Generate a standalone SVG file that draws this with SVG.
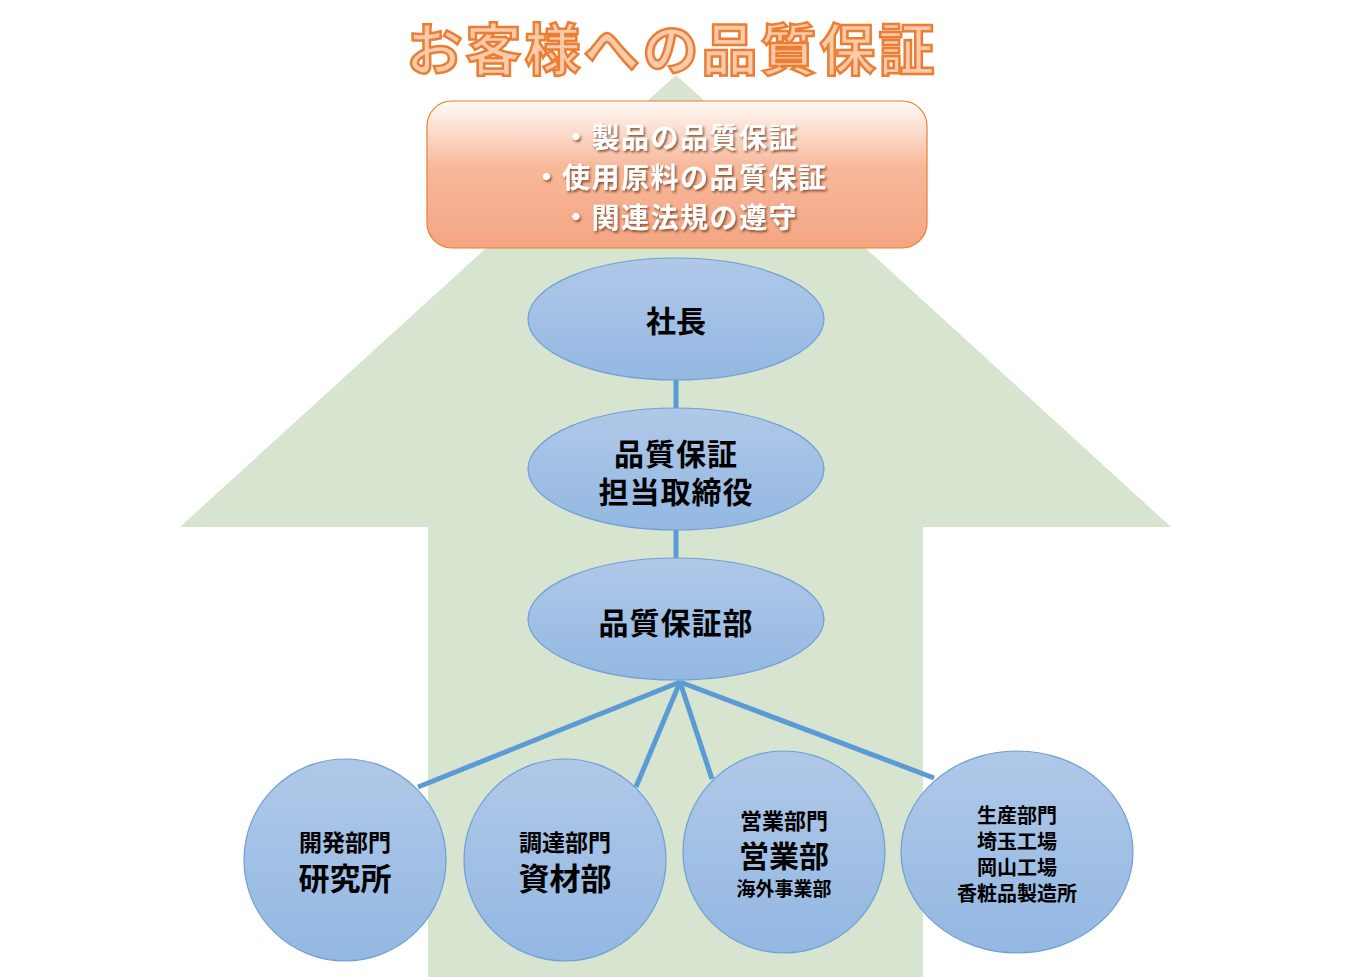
<svg xmlns="http://www.w3.org/2000/svg" width="1350" height="977" viewBox="0 0 1350 977">
<defs>
<linearGradient id="og" x1="0" y1="0" x2="0" y2="1"><stop offset="0" stop-color="#fffaf7"/><stop offset="0.45" stop-color="#f7b89a"/><stop offset="1" stop-color="#f4a582"/></linearGradient>
<linearGradient id="bg" x1="0" y1="0" x2="0" y2="1"><stop offset="0" stop-color="#b0c8e8"/><stop offset="1" stop-color="#93b8e2"/></linearGradient>
<filter id="sh" x="-10%" y="-10%" width="120%" height="130%"><feDropShadow dx="1.5" dy="2" stdDeviation="1.2" flood-color="#7a3a1a" flood-opacity="0.8"/></filter>
<style>
.n{fill:url(#bg);stroke:#6f9fd6;stroke-width:1.2}
.t{font-family:"Noto Sans CJK JP",sans-serif;font-weight:bold;fill:#000;text-anchor:middle}
.bx{font-family:"Noto Sans CJK JP",sans-serif;font-weight:bold;fill:#fff;font-size:28px;letter-spacing:1.5px;text-anchor:middle;filter:url(#sh)}
.c{stroke:#5b9bd5;stroke-width:5;fill:none}
</style>
</defs>
<rect width="1350" height="977" fill="#fff"/>
<polygon points="676,75 1171,527 923,527 923,977 428,977 428,527 180,527" fill="#d6e4d0"/>
<text x="672" y="70" font-family="Noto Sans CJK JP,sans-serif" font-weight="bold" font-size="56" letter-spacing="3" fill="#f8cbad" stroke="#ed7d31" stroke-width="2.5" text-anchor="middle">お客様への品質保証</text>
<g id="box"><rect x="427" y="101" width="500" height="147" rx="25" fill="url(#og)" stroke="#ed7d31" stroke-width="1.2"/>
<text class="bx" x="680" y="148">・製品の品質保証</text>
<text class="bx" x="680" y="188">・使用原料の品質保証</text>
<text class="bx" x="680" y="228">・関連法規の遵守</text></g>
<g id="connectors">
<line class="c" x1="676" y1="380" x2="676" y2="408"/>
<line class="c" x1="676" y1="530" x2="676" y2="558"/>
<line class="c" x1="680" y1="682" x2="418" y2="787"/>
<line class="c" x1="680" y1="682" x2="636" y2="787"/>
<line class="c" x1="680" y1="682" x2="712" y2="779"/>
<line class="c" x1="680" y1="682" x2="934" y2="778"/>
</g>
<g id="n1"><ellipse class="n" cx="676" cy="319" rx="148" ry="61"/><text class="t" x="676" y="332" font-size="30">社長</text></g>
<g id="n2"><ellipse class="n" cx="676" cy="469" rx="148" ry="61"/><text class="t" x="676" y="465" font-size="30" letter-spacing="1">品質保証</text><text class="t" x="676" y="503" font-size="30" letter-spacing="1">担当取締役</text></g>
<g id="n3"><ellipse class="n" cx="676" cy="619" rx="148" ry="61"/><text class="t" x="676" y="634" font-size="30" letter-spacing="1">品質保証部</text></g>
<g id="n4"><ellipse class="n" cx="345" cy="860" rx="101" ry="101"/><text class="t" x="345" y="851" font-size="23">開発部門</text><text class="t" x="345" y="890" font-size="31">研究所</text></g>
<g id="n5"><ellipse class="n" cx="565" cy="860" rx="101" ry="101"/><text class="t" x="565" y="851" font-size="23">調達部門</text><text class="t" x="565" y="890" font-size="31">資材部</text></g>
<g id="n6"><ellipse class="n" cx="784" cy="852" rx="101" ry="101"/><text class="t" x="784" y="829" font-size="22">営業部門</text><text class="t" x="784" y="867" font-size="30">営業部</text><text class="t" x="784" y="896" font-size="19">海外事業部</text></g>
<g id="n7"><ellipse class="n" cx="1017" cy="852" rx="116" ry="101"/><text class="t" x="1017" y="823" font-size="20">生産部門</text><text class="t" x="1017" y="849" font-size="20">埼玉工場</text><text class="t" x="1017" y="875" font-size="20">岡山工場</text><text class="t" x="1017" y="901" font-size="20">香粧品製造所</text></g>
</svg>
